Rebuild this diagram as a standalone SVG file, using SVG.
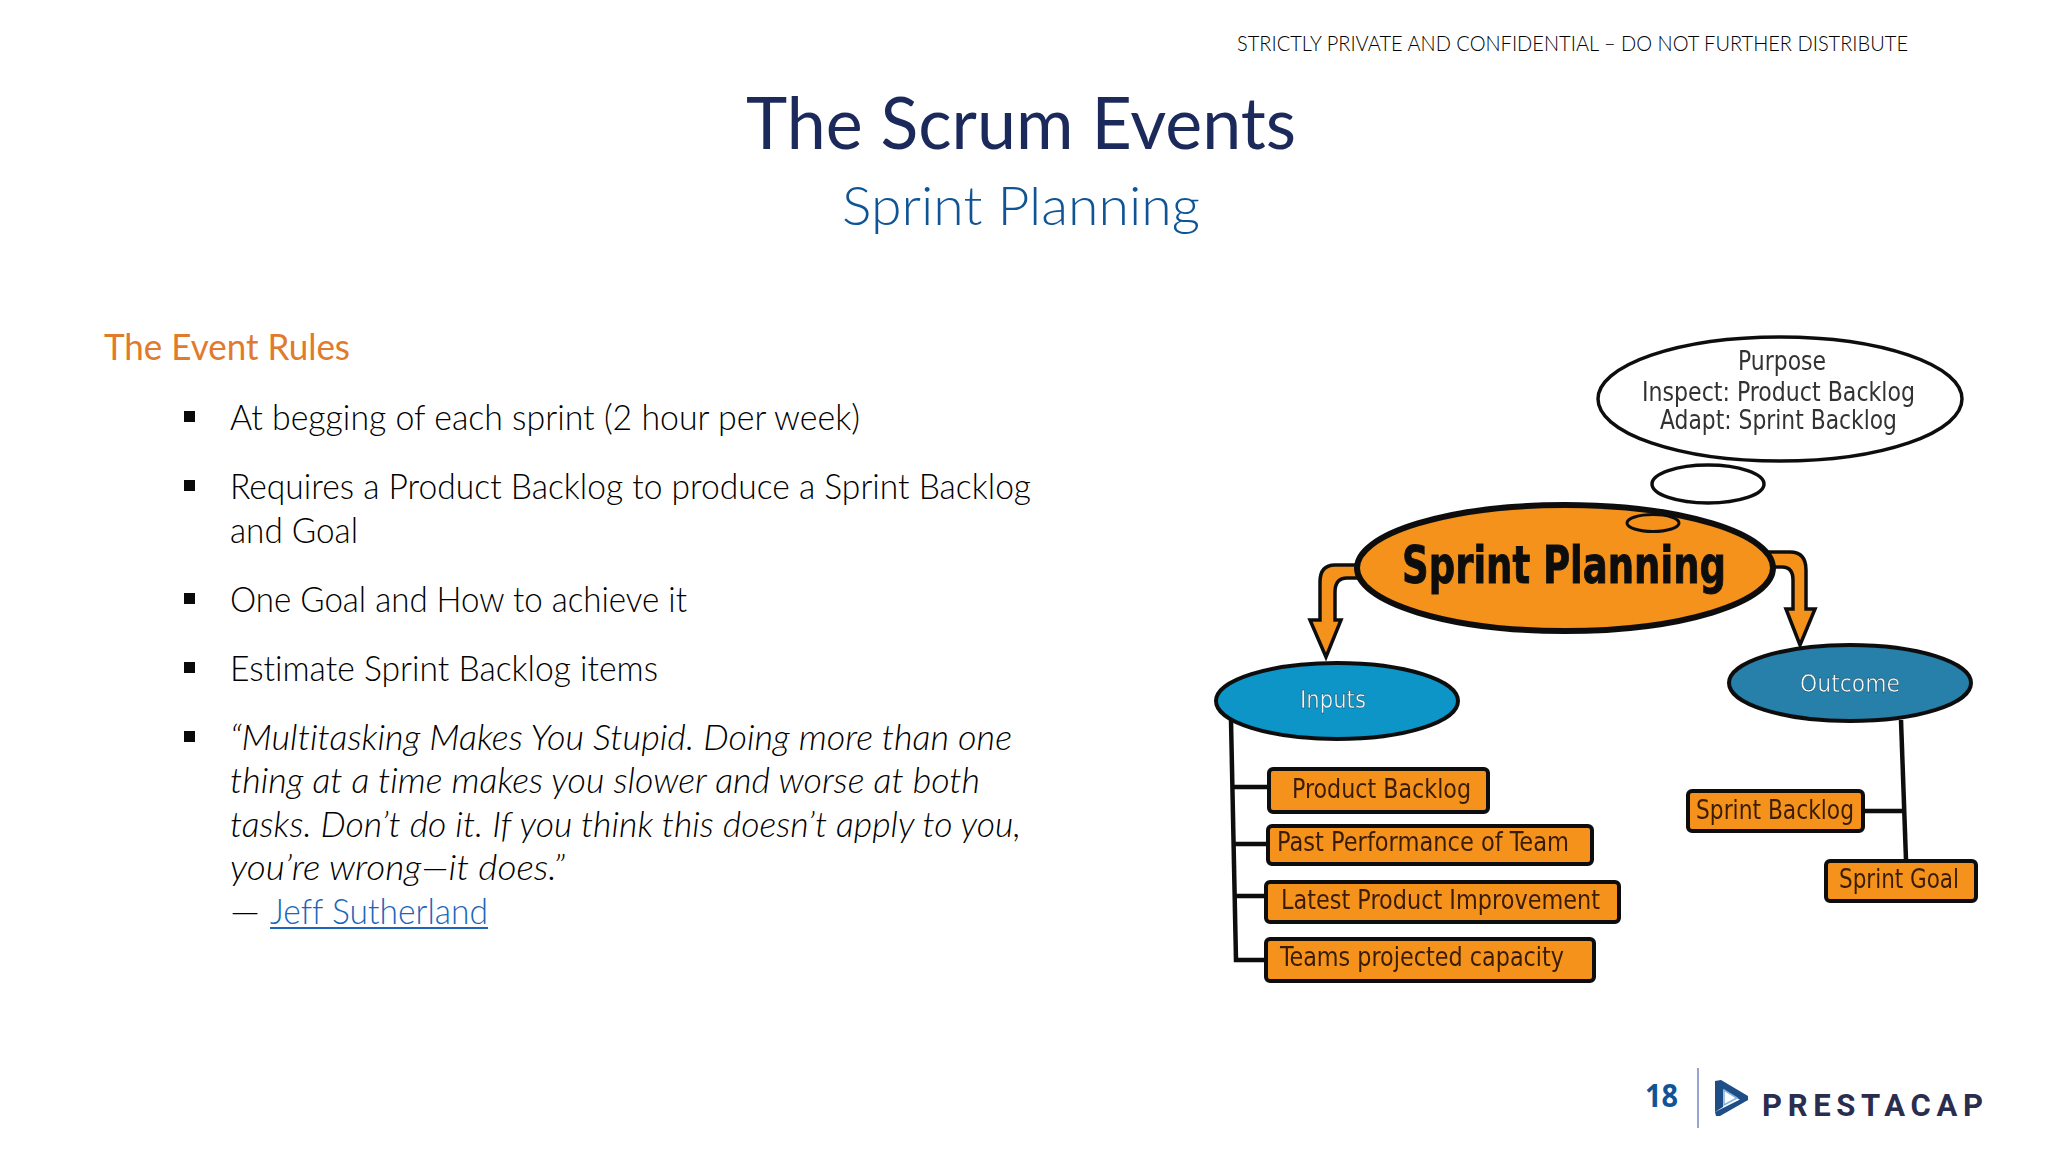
<svg xmlns="http://www.w3.org/2000/svg" width="2048" height="1152" viewBox="0 0 2048 1152">
<style>
text{font-family:"Lato","Open Sans","Liberation Sans",sans-serif;font-weight:300;fill:#000;font-variant-ligatures:none}
.b{font-size:35px}
.i{font-size:35px;font-style:italic}
.bu{fill:#0a0a0a}
.d text{font-family:"DejaVu Sans Condensed","DejaVu Sans",sans-serif;font-weight:400}
.box{fill:#f5921e;stroke:#111;stroke-width:4}
.bt{font-size:27px;fill:#3a1d05!important}
.pt{font-size:26px;fill:#333!important}
.wt{font-size:25px;fill:#f7fafc!important;stroke:#0b3346;stroke-width:.4px}
.ln{fill:none;stroke:#111;stroke-width:4.5}
.ar{fill:#f5921e;stroke:#111;stroke-width:3.5;stroke-linejoin:miter}
</style>
<defs><filter id="soft" x="-5%" y="-5%" width="110%" height="110%"><feGaussianBlur stdDeviation="0.6"/></filter></defs>
<rect width="2048" height="1152" fill="#fff"/>
<g id="header">
<text x="1237" y="51" font-size="22" textLength="671" lengthAdjust="spacingAndGlyphs">STRICTLY PRIVATE AND CONFIDENTIAL – DO NOT FURTHER DISTRIBUTE</text>
<text x="746" y="149" font-size="72" textLength="550" lengthAdjust="spacingAndGlyphs" style="fill:#1b2a5b;font-weight:400">The Scrum Events</text>
<text x="842" y="225" font-size="54" textLength="358" lengthAdjust="spacingAndGlyphs" style="fill:#0f5596">Sprint Planning</text>
</g>
<g id="rules">
<text x="104" y="360" font-size="36" textLength="246" lengthAdjust="spacingAndGlyphs" style="fill:#e07b2e;font-weight:400">The Event Rules</text>
<rect class="bu" x="184" y="411" width="11" height="11"/>
<text class="b" x="230" y="430" textLength="630" lengthAdjust="spacingAndGlyphs">At begging of each sprint (2 hour per week)</text>
<rect class="bu" x="184" y="480" width="11" height="11"/>
<text class="b" x="230" y="499" textLength="801" lengthAdjust="spacingAndGlyphs">Requires a Product Backlog to produce a Sprint Backlog</text>
<text class="b" x="230" y="543" textLength="128" lengthAdjust="spacingAndGlyphs">and Goal</text>
<rect class="bu" x="184" y="593" width="11" height="11"/>
<text class="b" x="230" y="612" textLength="457" lengthAdjust="spacingAndGlyphs">One Goal and How to achieve it</text>
<rect class="bu" x="184" y="662" width="11" height="11"/>
<text class="b" x="230" y="681" textLength="428" lengthAdjust="spacingAndGlyphs">Estimate Sprint Backlog items</text>
<rect class="bu" x="184" y="731" width="11" height="11"/>
<text class="i" x="230" y="750" textLength="782" lengthAdjust="spacingAndGlyphs">“Multitasking Makes You Stupid. Doing more than one</text>
<text class="i" x="230" y="793" textLength="750" lengthAdjust="spacingAndGlyphs">thing at a time makes you slower and worse at both</text>
<text class="i" x="230" y="837" textLength="791" lengthAdjust="spacingAndGlyphs">tasks. Don’t do it. If you think this doesn’t apply to you,</text>
<text class="i" x="230" y="880" textLength="335" lengthAdjust="spacingAndGlyphs">you’re wrong—it does.”</text>
<text class="b" x="230" y="924" textLength="30" lengthAdjust="spacingAndGlyphs">—</text>
<text class="b" x="270" y="924" textLength="218" lengthAdjust="spacingAndGlyphs" style="fill:#1a66b8">Jeff Sutherland</text>
<rect x="270" y="927" width="218" height="2" fill="#1a66b8"/>
</g>
<g class="d" filter="url(#soft)">
<g id="connectors">
<path class="ln" d="M1231,720L1236,960H1266"/>
<path class="ln" d="M1232,787H1268M1233,844H1267M1234,896H1265"/>
<path class="ln" d="M1901,720L1906,860M1863,811H1903"/>
<path class="ar" d="M1362,565H1335Q1320,565 1320,582V620H1310L1326,657L1341,620H1335V592Q1335,578 1347,578H1364Z"/>
<path class="ar" d="M1768,552H1790Q1806,552 1806,570V609H1815L1800,645L1786,609H1793V580Q1793,567 1782,567H1768Z"/>
</g>
<g id="purpose">
<ellipse cx="1780" cy="399" rx="182" ry="62" fill="#fff" stroke="#111" stroke-width="3.5"/>
<text class="pt" x="1738" y="370" textLength="88" lengthAdjust="spacingAndGlyphs">Purpose</text>
<text class="pt" x="1642" y="401" textLength="273" lengthAdjust="spacingAndGlyphs">Inspect: Product Backlog</text>
<text class="pt" x="1660" y="429" textLength="237" lengthAdjust="spacingAndGlyphs">Adapt: Sprint Backlog</text>
</g>
<g id="bubble"><ellipse cx="1708" cy="484" rx="56" ry="19" fill="#fff" stroke="#111" stroke-width="3.5"/></g>
<g id="sprint-planning">
<ellipse cx="1565" cy="568" rx="208" ry="63" fill="#f5921e" stroke="#111" stroke-width="6"/>
<ellipse cx="1653" cy="523" rx="26" ry="8.5" fill="#f5921e" stroke="#111" stroke-width="3"/>
<text x="1402" y="583" font-size="52" textLength="324" lengthAdjust="spacingAndGlyphs" style="font-weight:700;fill:#111;stroke:#111;stroke-width:1;font-family:'DejaVu Sans','Liberation Sans',sans-serif">Sprint Planning</text>
</g>
<g id="inputs">
<ellipse cx="1337" cy="701" rx="121" ry="38" fill="#0f95c8" stroke="#111" stroke-width="4"/>
<text class="wt" x="1300" y="708" textLength="66" lengthAdjust="spacingAndGlyphs">Inputs</text>
</g>
<g id="outcome">
<ellipse cx="1850" cy="683" rx="121" ry="38" fill="#2580aa" stroke="#111" stroke-width="4"/>
<text class="wt" x="1800" y="692" textLength="100" lengthAdjust="spacingAndGlyphs">Outcome</text>
</g>
<g id="product-backlog"><rect class="box" x="1269" y="769" width="219" height="43" rx="4"/><text class="bt" x="1292" y="798" textLength="179" lengthAdjust="spacingAndGlyphs">Product Backlog</text></g>
<g id="past-performance"><rect class="box" x="1268" y="826" width="324" height="38" rx="4"/><text class="bt" x="1277" y="851" textLength="292" lengthAdjust="spacingAndGlyphs">Past Performance of Team</text></g>
<g id="latest-improvement"><rect class="box" x="1266" y="882" width="353" height="40" rx="4"/><text class="bt" x="1281" y="909" textLength="319" lengthAdjust="spacingAndGlyphs">Latest Product Improvement</text></g>
<g id="teams-capacity"><rect class="box" x="1266" y="939" width="328" height="42" rx="4"/><text class="bt" x="1280" y="966" textLength="284" lengthAdjust="spacingAndGlyphs">Teams projected capacity</text></g>
<g id="sprint-backlog"><rect class="box" x="1688" y="791" width="175" height="40" rx="4"/><text class="bt" x="1696" y="819" textLength="158" lengthAdjust="spacingAndGlyphs">Sprint Backlog</text></g>
<g id="sprint-goal"><rect class="box" x="1826" y="861" width="150" height="40" rx="4"/><text class="bt" x="1839" y="888" textLength="120" lengthAdjust="spacingAndGlyphs">Sprint Goal</text></g>
</g>
<g id="footer">
<text x="1645" y="1107" font-size="33" textLength="33" lengthAdjust="spacingAndGlyphs" style="fill:#0f5596;font-weight:700;font-family:'Open Sans','Liberation Sans',sans-serif">18</text>
<rect x="1697" y="1068" width="2" height="60" fill="#9aa5cf"/>
<g id="logo">
<polygon points="1715,1081 1721,1080 1748,1096 1748,1100 1742,1101 1715,1085" fill="#1f4e86"/>
<polygon points="1715,1084 1723,1089 1723,1107 1715,1112" fill="#1f4e86"/>
<polygon points="1715,1112 1745,1097 1748,1100 1720,1116 1716,1116" fill="#1f4e86"/>
<polygon points="1724,1090 1737,1098 1724,1105" fill="#fff" stroke="#7fb3dc" stroke-width="1.5"/>
</g>
<text x="1762" y="1116" font-size="31" textLength="221" style="fill:#2a2d4e;font-weight:700;font-family:Roboto,'Liberation Sans',sans-serif">PRESTACAP</text>
</g>
</svg>
